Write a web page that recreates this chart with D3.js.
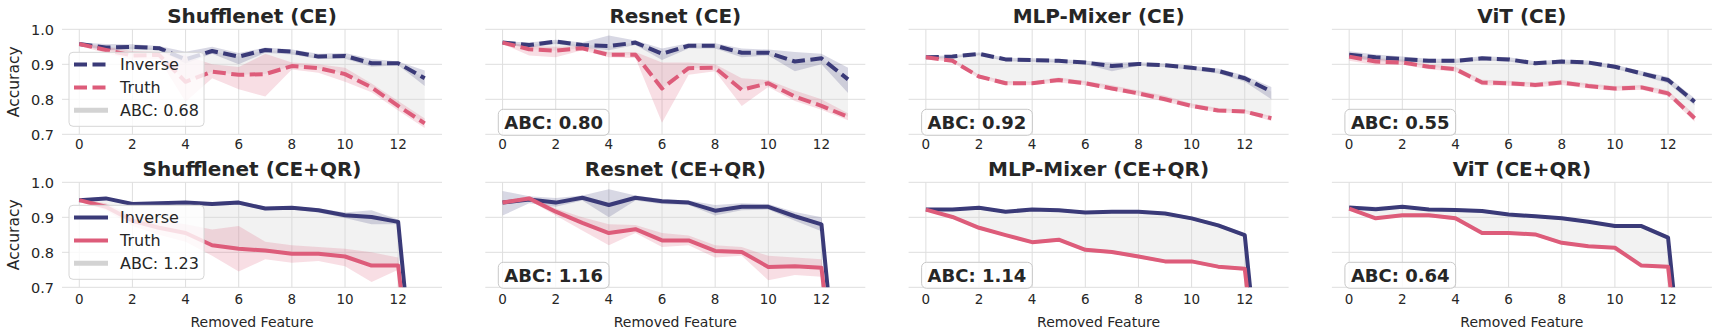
<!DOCTYPE html>
<html>
<head>
<meta charset="utf-8">
<script src="https://cdn.jsdelivr.net/npm/d3@7"></script>
<style>
  body { margin: 0; background: #fff; }
  text { font-family: "DejaVu Sans", sans-serif; fill: #262626; }
</style>
</head>
<body>
<div id="chart"></div>
<script>
// removed feature index on x
var features = [0, 1, 2, 3, 4, 5, 6, 7, 8, 9, 10, 11, 12, 13];
var xTicks = [0, 2, 4, 6, 8, 10, 12];
var yTicks = [0.7, 0.8, 0.9, 1.0];

var titles = ["Shufflenet (CE)", "Resnet (CE)", "MLP-Mixer (CE)", "ViT (CE)",
              "Shufflenet (CE+QR)", "Resnet (CE+QR)", "MLP-Mixer (CE+QR)", "ViT (CE+QR)"];
var abcScores = [0.68, 0.80, 0.92, 0.55, 1.23, 1.16, 1.14, 0.64];

// Shufflenet (CE)
var shuffleCE_inv   = [0.958,0.948,0.950,0.946,0.914,0.938,0.922,0.941,0.936,0.922,0.924,0.903,0.903,0.860];
var shuffleCE_invLo = [0.953,0.940,0.943,0.940,0.902,0.930,0.900,0.933,0.928,0.915,0.916,0.893,0.897,0.838];
var shuffleCE_invHi = [0.962,0.958,0.957,0.952,0.936,0.950,0.932,0.948,0.942,0.930,0.932,0.915,0.908,0.882];
var shuffleCE_tru   = [0.958,0.941,0.925,0.927,0.850,0.879,0.870,0.872,0.895,0.889,0.872,0.834,0.781,0.731];
var shuffleCE_truLo = [0.952,0.932,0.912,0.915,0.793,0.860,0.829,0.808,0.885,0.876,0.850,0.820,0.768,0.718];
var shuffleCE_truHi = [0.962,0.950,0.938,0.935,0.925,0.900,0.892,0.930,0.905,0.900,0.890,0.845,0.795,0.745];

// Resnet (CE)
var resnetCE_inv   = [0.962,0.955,0.965,0.955,0.952,0.962,0.930,0.953,0.953,0.933,0.933,0.908,0.917,0.857];
var resnetCE_invLo = [0.958,0.948,0.958,0.948,0.940,0.955,0.912,0.945,0.945,0.920,0.925,0.880,0.900,0.818];
var resnetCE_invHi = [0.966,0.962,0.970,0.962,0.982,0.968,0.945,0.960,0.960,0.945,0.942,0.935,0.930,0.890];
var resnetCE_tru   = [0.962,0.943,0.939,0.946,0.927,0.927,0.831,0.889,0.890,0.827,0.846,0.808,0.781,0.750];
var resnetCE_truLo = [0.958,0.925,0.920,0.940,0.920,0.918,0.733,0.870,0.880,0.781,0.835,0.795,0.770,0.740];
var resnetCE_truHi = [0.966,0.952,0.950,0.952,0.935,0.935,0.905,0.905,0.900,0.860,0.855,0.825,0.800,0.760];

// MLP-Mixer (CE)
var mixerCE_inv   = [0.920,0.922,0.930,0.914,0.912,0.910,0.905,0.895,0.901,0.897,0.890,0.881,0.860,0.822];
var mixerCE_invLo = [0.917,0.918,0.926,0.909,0.907,0.905,0.900,0.880,0.896,0.892,0.884,0.874,0.850,0.800];
var mixerCE_invHi = [0.923,0.926,0.934,0.919,0.917,0.915,0.910,0.905,0.906,0.902,0.896,0.888,0.868,0.835];
var mixerCE_tru   = [0.920,0.910,0.865,0.846,0.846,0.855,0.846,0.831,0.817,0.800,0.781,0.768,0.765,0.746];
var mixerCE_truLo = [0.917,0.905,0.860,0.840,0.841,0.848,0.840,0.825,0.810,0.793,0.775,0.762,0.760,0.738];
var mixerCE_truHi = [0.923,0.915,0.870,0.852,0.851,0.862,0.852,0.840,0.825,0.810,0.788,0.775,0.770,0.752];

// ViT (CE)
var vitCE_inv   = [0.927,0.920,0.915,0.910,0.910,0.917,0.914,0.903,0.908,0.905,0.893,0.874,0.855,0.793];
var vitCE_invLo = [0.915,0.912,0.908,0.904,0.904,0.911,0.908,0.897,0.902,0.899,0.887,0.867,0.846,0.783];
var vitCE_invHi = [0.937,0.928,0.922,0.916,0.916,0.923,0.920,0.909,0.914,0.911,0.899,0.881,0.864,0.803];
var vitCE_tru   = [0.922,0.908,0.905,0.893,0.886,0.848,0.846,0.841,0.848,0.838,0.831,0.834,0.817,0.746];
var vitCE_truLo = [0.910,0.898,0.899,0.886,0.879,0.840,0.839,0.834,0.841,0.831,0.824,0.827,0.809,0.736];
var vitCE_truHi = [0.932,0.916,0.911,0.900,0.893,0.856,0.853,0.848,0.855,0.845,0.838,0.841,0.825,0.756];

// Shufflenet (CE+QR)
var shuffleQR_inv   = [0.949,0.954,0.938,0.940,0.942,0.938,0.942,0.925,0.927,0.920,0.906,0.901,0.887,0.100];
var shuffleQR_invLo = [0.945,0.950,0.934,0.936,0.938,0.933,0.936,0.920,0.922,0.914,0.898,0.880,0.880,0.090];
var shuffleQR_invHi = [0.953,0.958,0.942,0.944,0.946,0.943,0.948,0.930,0.932,0.926,0.914,0.920,0.894,0.110];
var shuffleQR_tru   = [0.949,0.930,0.890,0.870,0.855,0.820,0.810,0.805,0.796,0.796,0.788,0.762,0.762,0.100];
var shuffleQR_truLo = [0.945,0.920,0.875,0.850,0.830,0.790,0.745,0.780,0.770,0.775,0.760,0.715,0.750,0.090];
var shuffleQR_truHi = [0.953,0.940,0.905,0.890,0.880,0.865,0.875,0.830,0.820,0.815,0.810,0.800,0.785,0.110];

// Resnet (CE+QR)
var resnetQR_inv   = [0.942,0.951,0.942,0.956,0.935,0.956,0.946,0.942,0.919,0.930,0.930,0.903,0.880,0.100];
var resnetQR_invLo = [0.905,0.940,0.930,0.948,0.900,0.948,0.938,0.935,0.905,0.920,0.922,0.890,0.860,0.090];
var resnetQR_invHi = [0.975,0.960,0.955,0.962,0.980,0.962,0.952,0.948,0.935,0.940,0.938,0.915,0.900,0.110];
var resnetQR_tru   = [0.942,0.954,0.916,0.884,0.855,0.866,0.834,0.834,0.804,0.801,0.758,0.760,0.756,0.100];
var resnetQR_truLo = [0.935,0.948,0.905,0.862,0.820,0.855,0.815,0.820,0.785,0.790,0.720,0.735,0.730,0.090];
var resnetQR_truHi = [0.948,0.960,0.925,0.900,0.880,0.878,0.855,0.848,0.820,0.815,0.790,0.785,0.780,0.110];

// MLP-Mixer (CE+QR)
var mixerQR_inv   = [0.922,0.922,0.927,0.916,0.922,0.920,0.914,0.916,0.916,0.911,0.897,0.877,0.849,0.100];
var mixerQR_invLo = [0.919,0.918,0.922,0.912,0.918,0.916,0.910,0.912,0.912,0.907,0.892,0.872,0.844,0.095];
var mixerQR_invHi = [0.925,0.926,0.932,0.920,0.926,0.925,0.918,0.920,0.920,0.915,0.902,0.882,0.854,0.105];
var mixerQR_tru   = [0.922,0.901,0.870,0.849,0.829,0.836,0.807,0.801,0.788,0.774,0.774,0.759,0.753,0.100];
var mixerQR_truLo = [0.919,0.897,0.865,0.845,0.824,0.831,0.802,0.796,0.783,0.769,0.769,0.754,0.748,0.095];
var mixerQR_truHi = [0.925,0.905,0.875,0.853,0.834,0.841,0.812,0.806,0.793,0.779,0.779,0.764,0.758,0.105];

// ViT (CE+QR)
var vitQR_inv   = [0.928,0.923,0.930,0.922,0.921,0.918,0.908,0.903,0.897,0.887,0.875,0.875,0.842,0.100];
var vitQR_invLo = [0.924,0.919,0.926,0.918,0.917,0.914,0.904,0.899,0.893,0.883,0.871,0.871,0.837,0.095];
var vitQR_invHi = [0.932,0.930,0.934,0.926,0.925,0.922,0.912,0.908,0.901,0.891,0.879,0.880,0.847,0.105];
var vitQR_tru   = [0.925,0.897,0.906,0.906,0.897,0.855,0.855,0.851,0.827,0.817,0.813,0.762,0.759,0.100];
var vitQR_truLo = [0.920,0.893,0.902,0.902,0.891,0.851,0.851,0.846,0.822,0.813,0.809,0.758,0.755,0.095];
var vitQR_truHi = [0.930,0.901,0.910,0.910,0.903,0.859,0.859,0.856,0.832,0.821,0.817,0.766,0.763,0.105];

var panels = [
  [shuffleCE_inv, shuffleCE_invLo, shuffleCE_invHi, shuffleCE_tru, shuffleCE_truLo, shuffleCE_truHi],
  [resnetCE_inv, resnetCE_invLo, resnetCE_invHi, resnetCE_tru, resnetCE_truLo, resnetCE_truHi],
  [mixerCE_inv, mixerCE_invLo, mixerCE_invHi, mixerCE_tru, mixerCE_truLo, mixerCE_truHi],
  [vitCE_inv, vitCE_invLo, vitCE_invHi, vitCE_tru, vitCE_truLo, vitCE_truHi],
  [shuffleQR_inv, shuffleQR_invLo, shuffleQR_invHi, shuffleQR_tru, shuffleQR_truLo, shuffleQR_truHi],
  [resnetQR_inv, resnetQR_invLo, resnetQR_invHi, resnetQR_tru, resnetQR_truLo, resnetQR_truHi],
  [mixerQR_inv, mixerQR_invLo, mixerQR_invHi, mixerQR_tru, mixerQR_truLo, mixerQR_truHi],
  [vitQR_inv, vitQR_invLo, vitQR_invHi, vitQR_tru, vitQR_truLo, vitQR_truHi]
];

var inverseColor = "#3a3a78";
var truthColor = "#dd5c7a";

var svgWidth = 1718, svgHeight = 335;
var colLeft = [62, 485.3, 908.6, 1331.9];
var rowTop = [29.3, 182.3];
var width = 380, height = 105;

var svg = d3.select("#chart")
  .append("svg")
  .attr("width", svgWidth)
  .attr("height", svgHeight)
  .style("background", "#fff");

var xScale = d3.scaleLinear().domain([-0.65, 13.65]).range([0, width]);
var yScale = d3.scaleLinear().domain([0.7, 1.0]).range([height, 0]);

panels.forEach(function(p, i) {
  var row = Math.floor(i / 4), col = i % 4;
  var dashed = row === 0;
  var g = svg.append("g")
    .attr("transform", "translate(" + colLeft[col] + "," + rowTop[row] + ")");

  // grid
  g.selectAll(".hgrid").data(yTicks).enter().append("line")
    .attr("x1", 0).attr("x2", width)
    .attr("y1", d => yScale(d)).attr("y2", d => yScale(d))
    .attr("stroke", "#dedede").attr("stroke-width", 1);
  g.selectAll(".vgrid").data(xTicks).enter().append("line")
    .attr("x1", d => xScale(d)).attr("x2", d => xScale(d))
    .attr("y1", 0).attr("y2", height)
    .attr("stroke", "#dedede").attr("stroke-width", 1);

  var clipId = "clip" + i;
  g.append("clipPath").attr("id", clipId)
    .append("rect").attr("x", 0).attr("y", 0).attr("width", width).attr("height", height);
  var plot = g.append("g").attr("clip-path", "url(#" + clipId + ")");

  var inv = p[0], invLo = p[1], invHi = p[2], tru = p[3], truLo = p[4], truHi = p[5];

  var band = function(lo, hi) {
    return d3.area()
      .x((d, k) => xScale(features[k]))
      .y0((d, k) => yScale(lo[k]))
      .y1((d, k) => yScale(hi[k]))(features);
  };
  var line = function(vals) {
    return d3.line()
      .x((d, k) => xScale(features[k]))
      .y((d, k) => yScale(vals[k]))(features);
  };

  // area between curves
  plot.append("path").attr("d", band(tru, inv))
    .attr("fill", "#d3d3d3").attr("fill-opacity", 0.3);
  plot.append("path").attr("d", band(invLo, invHi))
    .attr("fill", inverseColor).attr("fill-opacity", 0.2);
  plot.append("path").attr("d", band(truLo, truHi))
    .attr("fill", truthColor).attr("fill-opacity", 0.2);

  [[inv, inverseColor], [tru, truthColor]].forEach(function(s) {
    plot.append("path").attr("d", line(s[0]))
      .attr("fill", "none")
      .attr("stroke", s[1])
      .attr("stroke-width", 4)
      .attr("stroke-linejoin", "round")
      .attr("stroke-dasharray", dashed ? "13,5.5" : null);
  });

  // x tick labels
  g.selectAll(".xt").data(xTicks).enter().append("text")
    .attr("x", d => xScale(d))
    .attr("y", row === 0 ? height + 14.9 : height + 16.4)
    .attr("text-anchor", "middle")
    .style("font-size", "13.5px")
    .text(d => d);

  // title
  g.append("text")
    .attr("x", width / 2).attr("y", -6.8)
    .attr("text-anchor", "middle")
    .style("font-size", "20px").style("font-weight", "bold")
    .text(titles[i]);

  if (row === 1) {
    g.append("text")
      .attr("x", width / 2).attr("y", height + 39.8)
      .attr("text-anchor", "middle")
      .style("font-size", "14px")
      .text("Removed Feature");
  }

  if (col === 0) {
    g.selectAll(".yt").data(yTicks).enter().append("text")
      .attr("x", -8).attr("y", d => yScale(d))
      .attr("dy", "0.36em")
      .attr("text-anchor", "end")
      .style("font-size", "14.5px")
      .text(d => d.toFixed(1));

    g.append("text")
      .attr("transform", "translate(" + (-43) + "," + (height / 2) + ") rotate(-90)")
      .attr("text-anchor", "middle")
      .style("font-size", "15.5px")
      .text("Accuracy");

    // legend
    var lg = g.append("g").attr("transform", "translate(7," + 23 + ")");
    lg.append("rect")
      .attr("x", 0).attr("y", 0).attr("width", 135).attr("height", 74)
      .attr("rx", 4)
      .attr("fill", "#fff").attr("fill-opacity", 0.8)
      .attr("stroke", "#d6d6d6").attr("stroke-width", 1);
    var items = [
      {label: "Inverse", color: inverseColor, w: 4, dash: dashed},
      {label: "Truth", color: truthColor, w: 4, dash: dashed},
      {label: "ABC: " + abcScores[i].toFixed(2), color: "#d3d3d3", w: 5, dash: false}
    ];
    items.forEach(function(it, k) {
      var yy = 12.3 + k * 22.8;
      lg.append("line")
        .attr("x1", 5).attr("x2", 39).attr("y1", yy).attr("y2", yy)
        .attr("stroke", it.color).attr("stroke-width", it.w)
        .attr("stroke-dasharray", it.dash ? "13,5.5" : null);
      lg.append("text")
        .attr("x", 51).attr("y", yy).attr("dy", "0.36em")
        .style("font-size", "16px")
        .text(it.label);
    });
  } else {
    // ABC annotation box
    var ab = g.append("g");
    var t = ab.append("text")
      .attr("x", width * 0.05).attr("y", height - 5)
      .style("font-size", "18px").style("font-weight", "bold")
      .text("ABC: " + abcScores[i].toFixed(2));
    var bb = t.node().getBBox();
    ab.insert("rect", "text")
      .attr("x", bb.x - 6).attr("y", bb.y - 3)
      .attr("width", bb.width + 12).attr("height", bb.height + 5)
      .attr("rx", 5)
      .attr("fill", "#fff").attr("fill-opacity", 0.8)
      .attr("stroke", "#c8c8c8").attr("stroke-width", 1);
  }
});
</script>
</body>
</html>
